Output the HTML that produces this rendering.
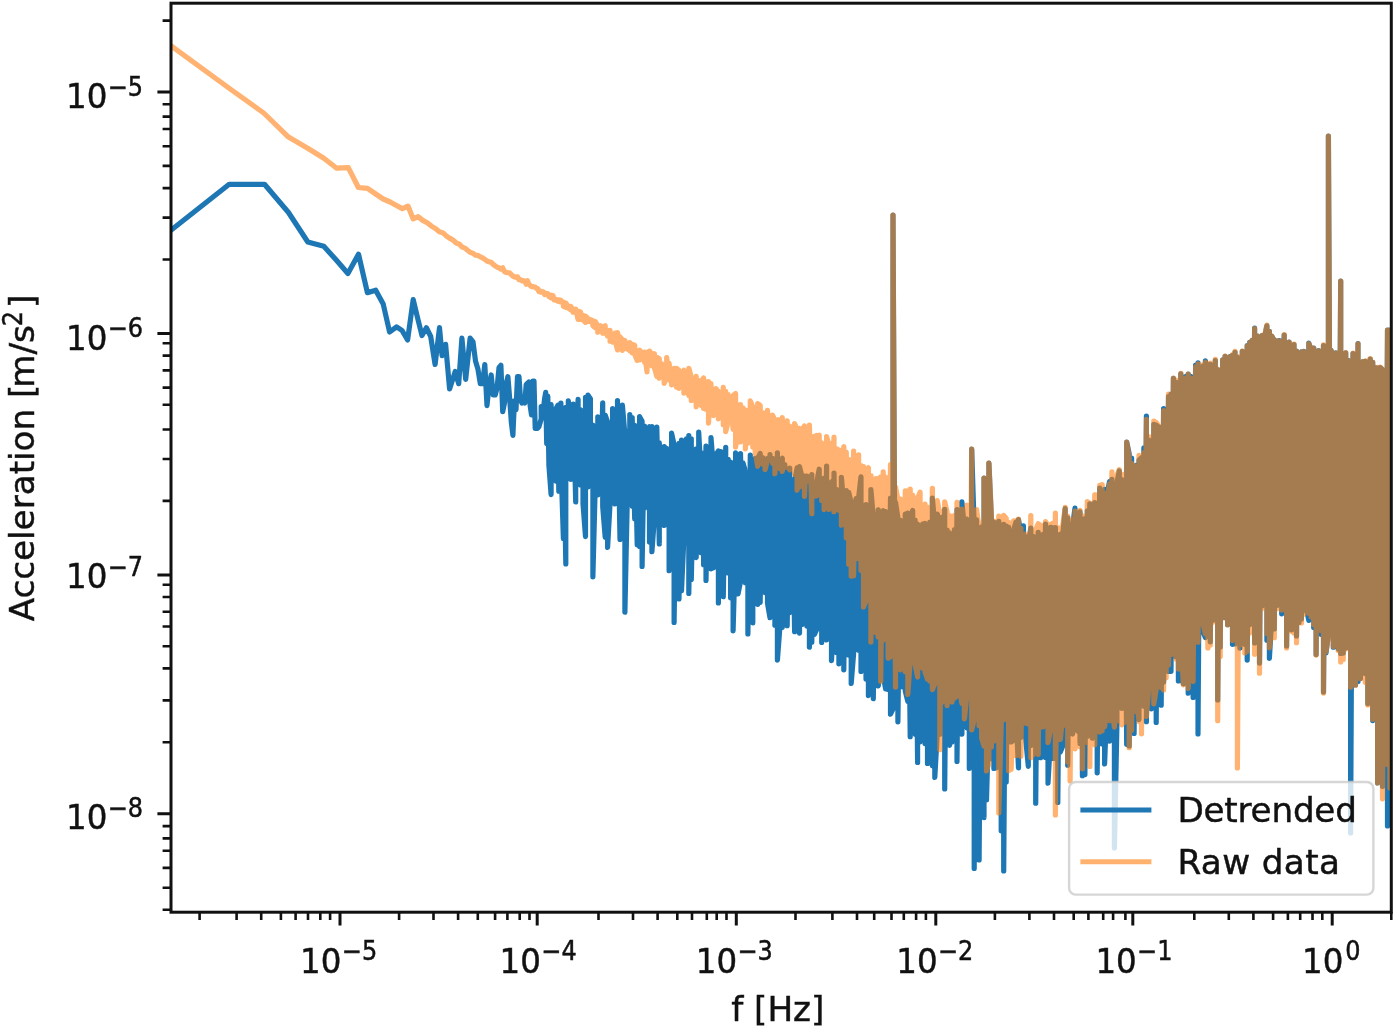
<!DOCTYPE html><html><head><meta charset="utf-8"><title>Spectrum</title><style>html,body{margin:0;padding:0;background:#fff}svg{display:block}text{font-family:"DejaVu Sans","Liberation Sans",sans-serif;fill:#111;stroke:#111;stroke-width:0.45px}</style></head><body><svg width="1395" height="1029" viewBox="0 0 1395 1029"><rect width="1395" height="1029" fill="#fff"/><clipPath id="c"><rect x="171.0" y="3.2" width="1220.3" height="909.0"/></clipPath>
<filter id="b" x="-2%" y="-2%" width="104%" height="104%"><feGaussianBlur stdDeviation="0.55"/></filter><g clip-path="url(#c)"><g filter="url(#b)" fill="none" stroke-linejoin="round" stroke-width="5.2">
<path d="M169.0 231.8L229.2 184.3L264.5 184.3L288.5 212.5L307.8 242.0L323.8 246.2L336.7 260.6L347.9 273.5L358.5 254.2L367.4 292.7L375.7 290.2L383.2 304.0L389.6 332.0L396.6 326.8L401.9 330.3L407.6 340.0L413.2 299.7L418.1 320.0L422.0 335.6L426.4 327.7L430.7 336.5L435.1 364.5L439.5 327.7L442.1 355.7L445.6 344.3L449.6 389.0L455.2 371.5L458.7 383.7L461.9 338.2L465.7 379.3L470.1 338.2L473.0 341.9L475.5 361.0L477.9 368.9L480.3 383.7L482.6 383.7L484.8 364.5L487.0 405.6L489.1 385.0L491.2 375.0L493.2 395.0L495.2 395.0L497.1 387.8L499.0 367.7L500.9 365.3L502.7 411.7L504.5 402.8L506.2 383.6L507.9 376.7L509.6 397.6L511.3 421.9L512.9 435.3L514.4 400.9L516.0 409.7L517.5 376.7L519.0 376.7L520.5 399.4L521.9 403.0L523.4 401.6L524.8 403.0L526.2 384.8L527.5 383.3L528.8 382.0L530.2 406.0L531.5 415.0L532.7 381.0L534.0 381.0L535.2 428.3L536.5 428.3L537.7 428.3L538.9 426.7L541.2 418.9L541.2 406.5L543.4 409.0L544.6 398.7L545.7 392.4L546.7 443.4L547.8 396.2L548.9 465.4L551.1 494.6L551.1 404.6L553.0 447.4L554.0 462.3L556.0 481.2L556.0 408.7L557.9 405.1L558.8 491.2L560.9 403.2L560.9 461.2L563.4 538.7L563.4 419.8L565.8 564.0L565.8 407.3L568.3 460.4L568.3 400.9L570.8 419.8L570.8 479.3L573.2 461.5L573.2 404.2L575.7 502.0L575.7 448.4L578.1 399.3L578.1 419.2L580.6 409.7L580.6 485.0L583.0 414.1L583.0 503.7L585.5 536.6L585.5 397.3L588.0 486.9L588.0 395.1L590.4 398.6L590.4 480.1L592.9 425.0L592.9 576.8L595.3 483.1L595.3 440.0L597.8 495.0L597.8 416.9L600.3 424.6L600.3 488.2L602.7 402.8L602.7 506.6L605.2 537.4L605.2 415.2L607.6 421.8L607.6 547.4L610.1 502.4L610.1 451.4L612.6 499.6L612.6 408.5L615.0 435.5L615.0 504.0L617.5 485.5L617.5 400.7L620.0 539.5L620.0 449.1L622.4 511.2L622.4 405.1L624.9 434.7L624.9 612.1L627.3 498.8L627.3 431.1L629.8 452.2L629.8 414.6L632.2 506.3L632.2 417.5L634.7 518.9L634.7 425.3L637.2 544.8L637.2 436.2L639.6 546.4L639.6 416.7L642.1 421.2L642.1 566.5L644.5 426.0L644.5 508.5L647.0 496.5L647.0 441.4L649.5 426.7L649.5 542.1L651.9 426.6L651.9 551.7L654.4 517.6L654.4 454.5L656.8 500.1L656.8 427.0L659.3 543.9L659.3 442.9L661.8 497.6L661.8 457.1L664.2 446.6L664.2 525.4L666.7 448.4L666.7 507.1L669.1 460.2L669.1 570.7L671.6 540.0L671.6 433.2L674.1 444.9L674.1 622.4L676.5 446.7L676.5 563.6L679.0 443.3L679.0 598.9L681.5 440.0L681.5 590.9L683.9 537.9L683.9 461.2L686.4 438.9L686.4 532.1L688.8 435.7L688.8 593.4L691.3 438.9L691.3 579.4L693.8 467.2L693.8 549.5L696.2 557.5L696.2 448.9L698.7 521.1L698.7 432.2L701.1 474.6L701.1 552.7L703.6 453.2L703.6 564.7L706.0 446.1L706.0 580.5L708.5 450.3L708.5 529.1L711.0 569.0L711.0 437.6L713.4 468.0L713.4 568.0L715.9 550.4L715.9 454.8L718.4 451.0L718.4 602.9L720.8 451.6L720.8 573.8L723.3 466.4L723.3 596.6L725.7 447.3L725.7 554.6L728.2 459.4L728.2 572.9L730.6 462.2L730.6 597.8L733.1 463.5L733.1 630.8L735.6 540.3L735.6 452.8L738.0 464.7L738.0 594.0L740.5 581.7L740.5 453.7L743.0 549.0L743.0 462.9L745.4 471.5L745.4 582.7L747.9 475.8L747.9 634.0L750.3 455.0L750.3 575.4L752.8 622.9L752.8 462.3L755.2 587.0L755.2 458.4L757.7 604.3L757.7 458.6L760.2 453.4L760.2 602.3L762.6 457.6L762.6 574.8L765.1 592.7L765.1 460.9L767.5 458.4L767.5 603.3L770.0 617.7L770.0 454.7L772.5 614.1L772.5 458.3L774.9 482.3L774.9 625.2L777.4 452.8L777.4 660.1L779.9 627.0L779.9 460.8L782.3 458.3L782.3 627.3L784.8 464.6L784.8 602.1L787.2 475.7L787.2 625.7L789.7 468.1L789.7 612.6L792.1 601.1L792.1 479.5L794.6 631.7L794.6 481.6L797.1 468.0L797.1 608.1L799.5 633.2L799.5 466.6L802.0 476.8L802.0 624.5L804.5 476.0L804.5 618.0L806.9 476.1L806.9 626.1L809.4 478.5L809.4 647.1L811.8 474.7L811.8 642.1L814.3 486.0L814.3 634.5L816.8 629.4L816.8 482.2L819.2 469.2L819.2 624.5L821.7 487.5L821.7 642.5L824.1 478.1L824.1 637.9L826.6 466.1L826.6 640.0L829.0 628.4L829.0 491.8L831.5 481.9L831.5 660.6L834.0 606.0L834.0 473.0L836.4 652.5L836.4 489.3L838.9 501.2L838.9 663.8L841.4 644.6L841.4 477.3L843.8 505.2L843.8 669.8L846.3 490.6L846.3 621.1L848.7 655.2L848.7 492.3L851.2 503.0L851.2 683.5L853.6 653.8L853.6 501.8L856.1 649.5L856.1 498.7L858.6 650.1L858.6 498.1L861.0 476.9L861.0 671.5L863.5 512.7L863.5 653.9L866.0 504.5L866.0 679.1L868.4 511.1L868.4 695.6L870.9 683.3L870.9 489.5L873.3 517.8L873.3 698.6L875.8 526.9L875.8 667.8L878.2 509.8L878.2 686.0L880.7 671.8L880.7 517.5L883.2 510.7L883.2 675.6L885.6 688.9L885.6 511.6L888.1 515.8L888.1 689.5L890.5 498.2L890.5 714.2L893.0 708.9L893.0 215.0L895.5 698.9L895.5 502.3L897.9 517.9L897.9 721.8L900.4 520.4L900.4 682.6L902.9 521.3L902.9 686.9L905.3 514.2L905.3 691.2L907.8 701.3L907.8 513.1L910.2 736.7L910.2 518.2L912.7 510.5L912.7 714.6L915.1 734.3L915.1 520.0L917.6 762.5L917.6 524.1L920.1 530.5L920.1 742.0L922.5 730.8L922.5 524.3L925.0 523.4L925.0 743.6L927.5 524.3L927.5 763.4L929.9 522.0L929.9 708.6L932.4 765.9L932.4 498.2L934.8 526.0L934.8 777.4L937.3 733.1L937.3 514.0L939.8 524.1L939.8 734.2L942.2 517.0L942.2 728.9L944.7 509.4L944.7 788.9L947.1 530.0L947.1 714.6L949.6 745.3L949.6 532.9L952.0 537.5L952.0 742.0L954.5 529.6L954.5 738.2L957.0 509.7L957.0 761.4L959.4 530.6L959.4 719.6L961.9 734.2L961.9 501.9L964.4 528.5L964.4 721.5L966.8 727.7L966.8 519.2L969.3 523.3L969.3 768.5L971.7 725.6L971.7 449.0L974.2 528.0L974.2 868.5L976.6 519.9L976.6 746.0L979.1 540.1L979.1 860.0L981.6 526.8L981.6 750.6L984.0 817.7L984.0 478.0L986.5 526.0L986.5 799.9L988.9 712.8L988.9 463.0L991.4 519.4L991.4 758.8L993.9 522.0L993.9 768.5L996.3 527.9L996.3 767.8L998.8 521.4L998.8 754.8L1001.2 532.8L1001.2 830.8L1003.7 524.4L1003.7 871.0L1006.2 526.2L1006.2 782.1L1008.6 527.4L1008.6 734.7L1011.1 533.3L1011.1 742.0L1013.5 740.4L1013.5 530.6L1016.0 522.1L1016.0 714.5L1018.5 767.9L1018.5 519.5L1020.9 534.1L1020.9 737.3L1023.4 525.8L1023.4 735.6L1025.8 536.7L1025.8 740.0L1028.3 766.3L1028.3 544.6L1030.8 528.0L1030.8 745.4L1033.2 536.3L1033.2 743.4L1035.7 537.4L1035.7 803.2L1038.2 532.3L1038.2 728.6L1040.6 536.5L1040.6 757.7L1043.1 534.3L1043.1 741.8L1045.5 524.0L1045.5 757.4L1048.0 532.3L1048.0 783.2L1050.4 740.6L1050.4 527.3L1052.9 528.1L1052.9 758.5L1055.4 527.5L1055.4 758.4L1057.8 534.9L1057.8 802.4L1060.3 534.3L1060.3 752.1L1062.8 745.8L1062.8 534.7L1065.2 508.7L1065.2 734.5L1067.7 517.9L1067.7 765.2L1070.1 528.2L1070.1 732.0L1072.6 734.0L1072.6 525.8L1075.0 508.2L1075.0 726.4L1077.5 731.0L1077.5 524.0L1080.0 511.9L1080.0 743.4L1082.4 522.0L1082.4 775.7L1084.9 518.6L1084.9 774.6L1087.3 510.9L1087.3 736.3L1089.8 503.9L1089.8 732.6L1092.3 514.9L1092.3 738.1L1094.7 502.6L1094.7 720.7L1097.2 504.4L1097.2 772.8L1099.7 488.2L1099.7 727.3L1102.1 491.1L1102.1 743.9L1104.6 489.3L1104.6 763.9L1107.0 700.4L1107.0 493.7L1109.5 481.7L1109.5 741.1L1111.9 479.4L1111.9 725.5L1114.4 484.4L1114.4 848.0L1116.9 725.9L1116.9 483.0L1119.3 471.0L1119.3 700.5L1121.8 479.5L1121.8 708.3L1124.2 694.1L1124.2 480.3L1126.7 744.3L1126.7 442.0L1129.2 454.1L1129.2 745.9L1131.6 458.1L1131.6 724.9L1134.1 469.4L1134.1 733.5L1136.5 465.2L1136.5 700.4L1139.0 719.6L1139.0 460.2L1141.5 457.8L1141.5 700.1L1143.9 447.9L1143.9 706.2L1146.4 416.2L1146.4 721.7L1148.8 440.0L1148.8 684.6L1151.3 441.8L1151.3 708.8L1153.8 424.4L1153.8 702.4L1156.2 425.2L1156.2 722.5L1158.7 426.8L1158.7 665.7L1161.2 431.6L1161.2 705.2L1163.6 408.5L1163.6 682.0L1166.1 420.9L1166.1 665.8L1168.5 396.7L1168.5 671.5L1171.0 394.0L1171.0 671.3L1173.4 378.4L1173.4 631.6L1175.9 382.1L1175.9 656.7L1178.4 388.2L1178.4 681.0L1180.8 373.9L1180.8 627.1L1183.3 684.0L1183.3 377.9L1185.8 376.5L1185.8 648.5L1188.2 374.1L1188.2 693.2L1190.7 627.4L1190.7 376.4L1193.1 380.4L1193.1 697.5L1195.6 365.2L1195.6 631.0L1198.0 362.9L1198.0 734.0L1200.5 372.1L1200.5 618.8L1203.0 366.0L1203.0 631.5L1205.4 637.5L1205.4 360.8L1207.9 371.7L1207.9 634.2L1210.3 364.3L1210.3 641.8L1212.8 371.2L1212.8 620.3L1215.3 360.6L1215.3 596.5L1217.7 369.7L1217.7 700.0L1220.2 370.9L1220.2 646.9L1222.7 359.9L1222.7 610.0L1225.1 356.3L1225.1 617.7L1227.6 366.9L1227.6 624.7L1230.0 356.5L1230.0 602.8L1232.5 355.4L1232.5 644.3L1235.0 352.3L1235.0 643.9L1237.4 357.4L1237.4 617.0L1239.9 360.2L1239.9 648.1L1242.3 351.3L1242.3 604.0L1244.8 352.7L1244.8 644.3L1247.2 345.5L1247.2 660.1L1249.7 342.3L1249.7 624.4L1252.2 340.4L1252.2 617.7L1254.6 328.2L1254.6 643.0L1257.1 335.8L1257.1 627.8L1259.5 342.0L1259.5 663.1L1262.0 335.6L1262.0 606.2L1264.5 599.1L1264.5 337.4L1266.9 325.8L1266.9 640.2L1269.4 331.4L1269.4 658.3L1271.8 616.4L1271.8 336.2L1274.3 340.6L1274.3 629.0L1276.8 340.9L1276.8 605.4L1279.2 340.7L1279.2 600.3L1281.7 340.8L1281.7 613.8L1284.2 335.0L1284.2 600.8L1286.6 342.7L1286.6 646.0L1289.1 342.1L1289.1 621.2L1291.5 350.1L1291.5 629.8L1294.0 344.5L1294.0 626.1L1296.5 351.1L1296.5 636.0L1298.9 354.3L1298.9 622.5L1301.4 351.8L1301.4 619.0L1303.8 351.3L1303.8 610.1L1306.3 353.2L1306.3 607.9L1308.8 620.4L1308.8 343.0L1311.2 350.0L1311.2 616.0L1313.7 348.2L1313.7 627.6L1316.1 359.4L1316.1 654.6L1318.6 350.6L1318.6 624.1L1321.0 352.8L1321.0 634.3L1323.5 345.5L1323.5 691.9L1326.0 355.2L1326.0 653.0L1328.4 634.4L1328.4 136.0L1330.9 634.7L1330.9 350.1L1333.3 355.5L1333.3 647.2L1335.8 352.8L1335.8 624.3L1338.3 358.1L1338.3 648.9L1340.7 281.0L1340.7 653.4L1343.2 357.4L1343.2 653.1L1345.7 352.8L1345.7 647.9L1348.1 360.3L1348.1 645.4L1350.6 365.0L1350.6 833.0L1353.0 353.6L1353.0 658.6L1355.5 354.3L1355.5 684.9L1358.0 343.7L1358.0 681.5L1360.4 365.7L1360.4 678.5L1362.9 361.7L1362.9 664.0L1365.3 361.3L1365.3 673.6L1367.8 364.6L1367.8 703.6L1370.2 359.1L1370.2 682.7L1372.7 362.4L1372.7 720.6L1375.2 367.6L1375.2 712.5L1377.6 368.0L1377.6 783.0L1380.1 716.2L1380.1 367.5L1382.5 369.7L1382.5 786.3L1385.0 371.8L1385.0 713.3L1387.5 330.0L1387.5 826.0L1389.9 330.0L1389.9 790.0L1392.4 386.5L1392.4 693.9" stroke="#1f77b4"/>
<path d="M169.0 44.3L228.8 88.0L263.7 113.0L288.5 137.1L307.7 148.3L323.5 158.0L336.7 168.2L348.3 167.6L358.4 187.5L367.5 188.4L375.7 194.0L383.2 199.0L390.1 202.0L396.5 205.5L402.4 208.7L408.0 206.1L413.2 218.9L418.2 216.7L422.8 220.4L427.2 222.7L431.4 226.1L435.5 228.6L439.3 231.7L443.0 232.9L446.5 236.1L449.9 238.4L453.1 240.1L456.2 243.0L459.3 244.2L462.2 247.1L465.0 248.1L467.8 250.5L470.4 252.5L473.0 253.2L475.5 255.2L477.9 255.3L480.3 256.9L482.6 257.9L484.8 259.4L487.0 261.0L489.1 261.9L491.2 262.2L493.2 264.4L495.2 265.9L497.1 267.2L499.0 267.7L500.9 269.2L502.7 267.8L504.5 271.6L506.2 272.5L507.9 272.7L509.6 272.8L511.3 274.6L512.9 276.1L514.4 276.9L516.0 277.3L517.5 276.8L519.0 279.7L520.5 279.6L521.9 280.9L523.4 280.7L524.8 281.4L526.2 284.2L527.5 280.8L528.8 283.9L530.2 285.5L531.5 286.6L532.7 286.6L534.0 287.0L535.2 287.0L536.5 288.4L537.7 288.5L538.9 291.6L541.2 291.3L541.2 292.2L543.4 291.8L544.6 294.6L545.7 293.8L546.7 293.4L547.8 293.8L548.9 296.6L551.1 295.3L551.1 297.8L553.0 295.7L554.0 299.9L556.0 299.3L556.0 300.2L557.9 301.3L558.8 299.9L560.9 300.4L560.9 302.0L563.4 302.0L563.4 306.3L565.8 307.2L565.8 303.0L568.3 307.0L568.3 308.2L570.8 309.9L570.8 306.4L573.2 310.3L573.2 312.2L575.7 312.2L575.7 309.1L578.1 319.4L578.1 311.2L580.6 312.0L580.6 319.4L583.0 315.2L583.0 319.8L585.5 322.3L585.5 316.1L588.0 318.6L588.0 321.2L590.4 321.7L590.4 319.7L592.9 320.7L592.9 325.7L595.3 327.7L595.3 321.6L597.8 326.0L597.8 332.2L600.3 327.9L600.3 325.7L602.7 333.2L602.7 327.0L605.2 325.7L605.2 333.3L607.6 330.7L607.6 335.9L610.1 330.4L610.1 341.2L612.6 335.1L612.6 342.1L615.0 333.1L615.0 340.0L617.5 349.9L617.5 332.5L620.0 345.3L620.0 336.8L622.4 339.8L622.4 350.3L624.9 340.5L624.9 348.1L627.3 349.0L627.3 343.6L629.8 350.8L629.8 342.6L632.2 352.9L632.2 344.4L634.7 345.2L634.7 354.3L637.2 360.4L637.2 351.4L639.6 359.9L639.6 350.1L642.1 357.9L642.1 352.0L644.5 362.1L644.5 352.1L647.0 372.0L647.0 352.3L649.5 358.0L649.5 351.0L651.9 354.4L651.9 365.7L654.4 353.7L654.4 367.9L656.8 376.3L656.8 357.3L659.3 358.7L659.3 378.2L661.8 363.8L661.8 376.5L664.2 367.0L664.2 383.3L666.7 375.9L666.7 357.6L669.1 380.0L669.1 363.3L671.6 385.0L671.6 369.2L674.1 380.2L674.1 368.3L676.5 387.2L676.5 368.4L679.0 370.3L679.0 388.3L681.5 382.4L681.5 374.0L683.9 370.3L683.9 393.1L686.4 390.9L686.4 372.2L688.8 395.6L688.8 368.3L691.3 377.2L691.3 400.5L693.8 383.5L693.8 399.9L696.2 376.3L696.2 406.8L698.7 380.5L698.7 401.5L701.1 405.4L701.1 381.6L703.6 378.0L703.6 408.3L706.0 381.8L706.0 409.2L708.5 381.6L708.5 423.1L711.0 383.6L711.0 413.6L713.4 415.6L713.4 391.2L715.9 409.0L715.9 388.6L718.4 391.9L718.4 418.8L720.8 396.3L720.8 414.0L723.3 387.4L723.3 424.8L725.7 391.3L725.7 431.6L728.2 421.3L728.2 394.7L730.6 421.2L730.6 397.1L733.1 429.3L733.1 395.5L735.6 393.5L735.6 447.0L738.0 432.0L738.0 405.1L740.5 404.7L740.5 442.0L743.0 439.3L743.0 407.9L745.4 411.3L745.4 448.8L747.9 410.2L747.9 443.2L750.3 434.6L750.3 400.9L752.8 406.9L752.8 447.1L755.2 413.6L755.2 451.8L757.7 466.3L757.7 403.6L760.2 405.3L760.2 453.6L762.6 464.1L762.6 412.7L765.1 413.6L765.1 469.6L767.5 460.1L767.5 410.4L770.0 454.4L770.0 416.6L772.5 463.4L772.5 415.1L774.9 420.4L774.9 473.7L777.4 419.8L777.4 459.0L779.9 419.7L779.9 468.6L782.3 417.7L782.3 471.4L784.8 424.9L784.8 467.5L787.2 420.8L787.2 465.7L789.7 469.8L789.7 426.0L792.1 468.3L792.1 429.3L794.6 474.5L794.6 423.7L797.1 429.4L797.1 490.2L799.5 428.4L799.5 487.2L802.0 479.9L802.0 430.2L804.5 425.9L804.5 496.3L806.9 434.5L806.9 481.5L809.4 479.6L809.4 425.2L811.8 513.7L811.8 437.5L814.3 436.4L814.3 496.3L816.8 435.3L816.8 496.0L819.2 435.0L819.2 492.0L821.7 442.9L821.7 500.5L824.1 445.9L824.1 509.6L826.6 496.5L826.6 436.6L829.0 445.5L829.0 509.5L831.5 443.3L831.5 506.8L834.0 437.2L834.0 511.7L836.4 448.7L836.4 503.7L838.9 449.9L838.9 510.2L841.4 450.4L841.4 525.2L843.8 446.5L843.8 524.0L846.3 452.2L846.3 537.7L848.7 459.4L848.7 564.2L851.2 465.0L851.2 576.1L853.6 451.0L853.6 575.6L856.1 463.8L856.1 556.0L858.6 454.8L858.6 558.7L861.0 465.5L861.0 570.3L863.5 466.6L863.5 607.0L866.0 601.1L866.0 471.3L868.4 467.8L868.4 589.1L870.9 475.6L870.9 641.9L873.3 479.0L873.3 630.3L875.8 478.5L875.8 632.6L878.2 478.6L878.2 636.9L880.7 476.8L880.7 681.3L883.2 471.8L883.2 640.1L885.6 628.8L885.6 477.1L888.1 488.2L888.1 658.1L890.5 464.6L890.5 656.9L893.0 634.8L893.0 215.0L895.5 687.1L895.5 487.1L897.9 499.3L897.9 650.4L900.4 669.8L900.4 499.1L902.9 502.6L902.9 658.7L905.3 490.9L905.3 671.7L907.8 490.9L907.8 694.4L910.2 660.2L910.2 489.1L912.7 645.4L912.7 495.2L915.1 505.4L915.1 664.1L917.6 677.0L917.6 498.2L920.1 492.2L920.1 664.6L922.5 505.2L922.5 667.9L925.0 504.1L925.0 671.8L927.5 679.2L927.5 507.2L929.9 514.0L929.9 681.0L932.4 488.4L932.4 689.6L934.8 683.6L934.8 513.2L937.3 664.2L937.3 500.7L939.8 514.7L939.8 749.6L942.2 511.4L942.2 702.2L944.7 682.3L944.7 501.8L947.1 511.9L947.1 705.5L949.6 515.6L949.6 682.0L952.0 522.3L952.0 702.0L954.5 515.4L954.5 697.9L957.0 502.3L957.0 696.2L959.4 524.2L959.4 685.3L961.9 703.5L961.9 509.2L964.4 516.6L964.4 718.8L966.8 695.9L966.8 505.2L969.3 516.1L969.3 697.3L971.7 449.0L971.7 729.8L974.2 719.7L974.2 520.2L976.6 684.5L976.6 509.5L979.1 528.2L979.1 725.7L981.6 523.7L981.6 738.1L984.0 746.0L984.0 478.0L986.5 521.5L986.5 770.9L988.9 763.7L988.9 463.0L991.4 514.8L991.4 747.0L993.9 521.2L993.9 740.9L996.3 523.5L996.3 718.3L998.8 516.2L998.8 813.0L1001.2 725.7L1001.2 517.5L1003.7 719.7L1003.7 515.3L1006.2 518.4L1006.2 709.6L1008.6 522.4L1008.6 770.7L1011.1 532.7L1011.1 769.5L1013.5 703.2L1013.5 520.9L1016.0 520.8L1016.0 755.5L1018.5 519.2L1018.5 733.4L1020.9 528.4L1020.9 756.2L1023.4 534.2L1023.4 713.4L1025.8 534.1L1025.8 723.2L1028.3 537.6L1028.3 724.0L1030.8 515.5L1030.8 757.6L1033.2 530.8L1033.2 754.9L1035.7 721.7L1035.7 529.8L1038.2 523.7L1038.2 754.3L1040.6 525.1L1040.6 727.0L1043.1 538.6L1043.1 726.9L1045.5 719.6L1045.5 521.5L1048.0 525.9L1048.0 742.6L1050.4 730.4L1050.4 524.6L1052.9 523.2L1052.9 712.3L1055.4 513.0L1055.4 815.0L1057.8 527.5L1057.8 723.9L1060.3 527.9L1060.3 739.4L1062.8 714.5L1062.8 525.4L1065.2 507.3L1065.2 725.2L1067.7 516.2L1067.7 761.7L1070.1 524.4L1070.1 781.0L1072.6 519.3L1072.6 746.0L1075.0 511.2L1075.0 748.8L1077.5 521.6L1077.5 738.5L1080.0 510.3L1080.0 746.7L1082.4 515.9L1082.4 768.6L1084.9 517.0L1084.9 739.4L1087.3 501.7L1087.3 742.5L1089.8 503.0L1089.8 766.4L1092.3 505.6L1092.3 713.8L1094.7 494.9L1094.7 744.7L1097.2 494.9L1097.2 730.2L1099.7 485.3L1099.7 731.9L1102.1 484.6L1102.1 730.7L1104.6 493.3L1104.6 726.6L1107.0 705.6L1107.0 498.6L1109.5 483.9L1109.5 720.6L1111.9 471.9L1111.9 708.1L1114.4 727.1L1114.4 484.1L1116.9 720.8L1116.9 475.5L1119.3 469.6L1119.3 715.7L1121.8 724.9L1121.8 480.2L1124.2 722.5L1124.2 474.2L1126.7 718.1L1126.7 442.0L1129.2 457.7L1129.2 747.7L1131.6 463.3L1131.6 730.2L1134.1 465.6L1134.1 711.5L1136.5 467.7L1136.5 697.2L1139.0 721.6L1139.0 455.4L1141.5 457.5L1141.5 733.8L1143.9 452.6L1143.9 688.3L1146.4 419.4L1146.4 716.5L1148.8 687.7L1148.8 436.7L1151.3 441.0L1151.3 683.0L1153.8 421.2L1153.8 703.8L1156.2 689.5L1156.2 422.4L1158.7 426.1L1158.7 670.5L1161.2 428.5L1161.2 687.6L1163.6 410.5L1163.6 690.0L1166.1 423.7L1166.1 677.8L1168.5 394.1L1168.5 664.9L1171.0 394.5L1171.0 654.4L1173.4 378.0L1173.4 633.1L1175.9 380.2L1175.9 659.1L1178.4 388.3L1178.4 668.9L1180.8 373.3L1180.8 630.5L1183.3 684.8L1183.3 378.4L1185.8 378.4L1185.8 642.1L1188.2 374.0L1188.2 688.5L1190.7 630.2L1190.7 378.2L1193.1 379.0L1193.1 681.3L1195.6 366.8L1195.6 632.8L1198.0 363.9L1198.0 642.2L1200.5 371.1L1200.5 612.2L1203.0 364.5L1203.0 623.8L1205.4 633.9L1205.4 362.1L1207.9 373.2L1207.9 647.9L1210.3 363.1L1210.3 645.0L1212.8 370.5L1212.8 622.2L1215.3 359.4L1215.3 595.0L1217.7 369.2L1217.7 720.7L1220.2 370.6L1220.2 656.4L1222.7 359.8L1222.7 617.8L1225.1 356.2L1225.1 608.7L1227.6 365.8L1227.6 624.8L1230.0 356.8L1230.0 603.8L1232.5 354.5L1232.5 640.5L1235.0 351.4L1235.0 630.0L1237.4 356.4L1237.4 768.0L1239.9 359.9L1239.9 645.1L1242.3 351.0L1242.3 600.3L1244.8 352.5L1244.8 653.0L1247.2 346.2L1247.2 651.2L1249.7 342.6L1249.7 633.1L1252.2 340.2L1252.2 619.5L1254.6 328.6L1254.6 654.2L1257.1 336.1L1257.1 630.3L1259.5 341.3L1259.5 673.2L1262.0 335.4L1262.0 608.9L1264.5 600.2L1264.5 336.6L1266.9 325.1L1266.9 633.6L1269.4 331.4L1269.4 647.8L1271.8 624.3L1271.8 336.1L1274.3 341.1L1274.3 637.7L1276.8 340.7L1276.8 608.7L1279.2 341.3L1279.2 605.5L1281.7 341.3L1281.7 609.9L1284.2 334.7L1284.2 598.9L1286.6 343.0L1286.6 647.9L1289.1 342.0L1289.1 617.8L1291.5 350.4L1291.5 631.3L1294.0 344.1L1294.0 632.9L1296.5 351.2L1296.5 642.7L1298.9 354.6L1298.9 617.5L1301.4 352.0L1301.4 623.0L1303.8 351.5L1303.8 614.2L1306.3 352.8L1306.3 610.1L1308.8 613.3L1308.8 343.5L1311.2 349.8L1311.2 616.8L1313.7 348.2L1313.7 624.5L1316.1 359.6L1316.1 655.0L1318.6 350.9L1318.6 623.7L1321.0 352.5L1321.0 630.4L1323.5 344.9L1323.5 693.1L1326.0 354.7L1326.0 651.7L1328.4 636.4L1328.4 136.0L1330.9 638.7L1330.9 350.1L1333.3 355.7L1333.3 646.6L1335.8 353.1L1335.8 625.8L1338.3 358.3L1338.3 650.6L1340.7 281.0L1340.7 661.9L1343.2 357.3L1343.2 659.5L1345.7 352.7L1345.7 649.0L1348.1 360.7L1348.1 641.2L1350.6 365.0L1350.6 687.2L1353.0 353.1L1353.0 661.0L1355.5 354.4L1355.5 685.2L1358.0 343.8L1358.0 677.0L1360.4 365.9L1360.4 678.6L1362.9 361.7L1362.9 666.3L1365.3 360.9L1365.3 682.3L1367.8 364.9L1367.8 704.9L1370.2 358.6L1370.2 687.7L1372.7 362.2L1372.7 719.3L1375.2 368.0L1375.2 702.6L1377.6 367.4L1377.6 783.0L1380.1 714.9L1380.1 367.1L1382.5 369.8L1382.5 798.8L1385.0 371.3L1385.0 720.2L1387.5 330.0L1387.5 764.6L1389.9 330.0L1389.9 788.0L1392.4 386.5L1392.4 698.4" stroke="#ff7f0e" stroke-opacity="0.6"/>
</g></g>
<rect x="1069.1" y="782" width="304.3" height="112.6" rx="6.5" fill="#fff" fill-opacity="0.8" stroke="#ccc" stroke-opacity="0.8" stroke-width="2.4"/>
<path d="M1080.4 810h71" stroke="#1f77b4" stroke-width="5"/><path d="M1080.4 861.7h71" stroke="#ff7f0e" stroke-opacity="0.6" stroke-width="5"/>
<text x="1177.4" y="821.8" font-size="34.2" textLength="179.5">Detrended</text><text x="1177.4" y="873.6" font-size="34.2" textLength="162.5">Raw data</text>
<rect x="171.0" y="3.2" width="1220.3" height="909.0" fill="none" stroke="#111" stroke-width="3"/>
<path d="M340.0 912.2v13.2M537.2 912.2v13.2M736.3 912.2v13.2M935.8 912.2v13.2M1132.8 912.2v13.2M1332.2 912.2v13.2M171.0 92.0h-13.6M171.0 333.4h-13.6M171.0 574.9h-13.6M171.0 813.7h-13.6" stroke="#111" stroke-width="3" fill="none"/>
<path d="M199.6 912.2v7.8M236.6 912.2v7.8M261.2 912.2v7.8M280.9 912.2v7.8M295.6 912.2v7.8M308.0 912.2v7.8M320.3 912.2v7.8M330.1 912.2v7.8M399.1 912.2v7.8M433.5 912.2v7.8M458.1 912.2v7.8M477.8 912.2v7.8M495.1 912.2v7.8M507.4 912.2v7.8M519.7 912.2v7.8M529.5 912.2v7.8M598.5 912.2v7.8M633.0 912.2v7.8M657.6 912.2v7.8M677.3 912.2v7.8M692.0 912.2v7.8M706.8 912.2v7.8M716.7 912.2v7.8M726.5 912.2v7.8M795.5 912.2v7.8M832.4 912.2v7.8M857.0 912.2v7.8M874.2 912.2v7.8M891.5 912.2v7.8M903.8 912.2v7.8M916.1 912.2v7.8M925.9 912.2v7.8M994.9 912.2v7.8M1029.4 912.2v7.8M1054.0 912.2v7.8M1073.7 912.2v7.8M1088.4 912.2v7.8M1103.2 912.2v7.8M1113.1 912.2v7.8M1125.4 912.2v7.8M1194.3 912.2v7.8M1228.8 912.2v7.8M1253.4 912.2v7.8M1273.1 912.2v7.8M1287.9 912.2v7.8M1300.2 912.2v7.8M1312.5 912.2v7.8M1322.3 912.2v7.8M1391.3 912.2v7.8M171.0 909.8h-8.4M171.0 887.7h-8.4M171.0 867.9h-8.4M171.0 850.7h-8.4M171.0 838.4h-8.4M171.0 826.1h-8.4M171.0 742.3h-8.4M171.0 700.4h-8.4M171.0 668.4h-8.4M171.0 646.2h-8.4M171.0 626.5h-8.4M171.0 611.8h-8.4M171.0 597.0h-8.4M171.0 584.7h-8.4M171.0 500.9h-8.4M171.0 459.0h-8.4M171.0 429.5h-8.4M171.0 404.8h-8.4M171.0 387.6h-8.4M171.0 370.4h-8.4M171.0 355.6h-8.4M171.0 343.3h-8.4M171.0 259.5h-8.4M171.0 217.6h-8.4M171.0 188.1h-8.4M171.0 165.9h-8.4M171.0 146.2h-8.4M171.0 129.0h-8.4M171.0 116.6h-8.4M171.0 104.3h-8.4M171.0 20.6h-8.4" stroke="#111" stroke-width="2.6" fill="none"/>
<text transform="translate(66.0 108.2) scale(0.95 1)" font-size="34.2">10</text><text transform="translate(107.7 95.7) scale(1 1.12)" font-size="24.0">−5</text>
<text transform="translate(66.0 349.5) scale(0.95 1)" font-size="34.2">10</text><text transform="translate(107.7 337.0) scale(1 1.12)" font-size="24.0">−6</text>
<text transform="translate(66.0 588.2) scale(0.95 1)" font-size="34.2">10</text><text transform="translate(107.7 575.7) scale(1 1.12)" font-size="24.0">−7</text>
<text transform="translate(66.0 829.2) scale(0.95 1)" font-size="34.2">10</text><text transform="translate(107.7 816.7) scale(1 1.12)" font-size="24.0">−8</text>
<text transform="translate(300.1 972.7) scale(0.95 1)" font-size="34.2">10</text><text transform="translate(341.8 960.2) scale(1 1.12)" font-size="24.0">−5</text>
<text transform="translate(499.6 972.7) scale(0.95 1)" font-size="34.2">10</text><text transform="translate(541.3 960.2) scale(1 1.12)" font-size="24.0">−4</text>
<text transform="translate(695.8 972.7) scale(0.95 1)" font-size="34.2">10</text><text transform="translate(737.5 960.2) scale(1 1.12)" font-size="24.0">−3</text>
<text transform="translate(896.3 972.7) scale(0.95 1)" font-size="34.2">10</text><text transform="translate(938.0 960.2) scale(1 1.12)" font-size="24.0">−2</text>
<text transform="translate(1095.4 972.7) scale(0.95 1)" font-size="34.2">10</text><text transform="translate(1137.1 960.2) scale(1 1.12)" font-size="24.0">−1</text>
<text transform="translate(1302.0 972.7) scale(0.95 1)" font-size="34.2">10</text><text transform="translate(1345.2 960.2) scale(1 1.12)" font-size="24.0">0</text>
<text x="731.3" y="1021.2" font-size="34.2" textLength="93">f [Hz]</text>
<g transform="translate(34.1 621.3) rotate(-90)"><text x="0" y="0" font-size="34.2">Acceleration [</text><text x="233.2" y="0" font-size="34.2" textLength="63" lengthAdjust="spacingAndGlyphs">m/s</text><text transform="translate(295 -12.2) scale(1 1.12)" font-size="24.0">2</text><text x="313.3" y="0" font-size="34.2">]</text></g></svg></body></html>
